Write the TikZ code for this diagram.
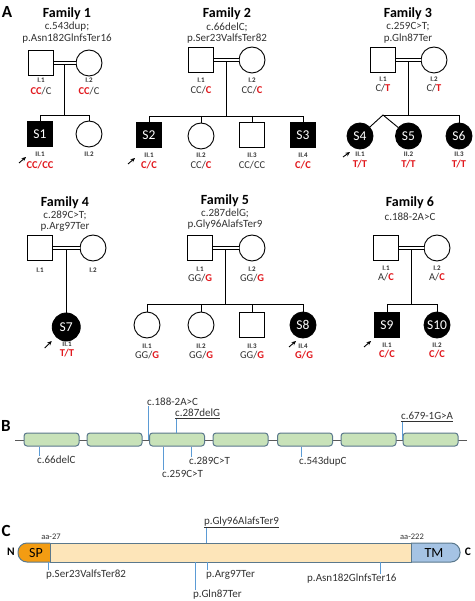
\documentclass[tikz,border=0pt]{standalone}
\usepackage{fontspec}
\setmainfont{Carlito}
\usetikzlibrary{calc,arrows.meta}
\definecolor{gred}{RGB}{225,25,30}
\definecolor{mblue}{RGB}{91,155,213}
\definecolor{exfill}{RGB}{200,226,185}
\definecolor{exline}{RGB}{90,120,140}
\definecolor{spfill}{RGB}{243,156,18}
\definecolor{bodyfill}{RGB}{253,229,185}
\definecolor{tmfill}{RGB}{165,195,228}
\definecolor{txt}{RGB}{50,50,50}
\newcommand\rg[1]{\textcolor{gred}{\textbf{#1}}}
\begin{document}
\begin{tikzpicture}[x=1pt,y=-1pt,
 male/.style={draw, line width=0.9pt, fill=white, minimum size=25pt, inner sep=0pt},
 female/.style={circle, draw, line width=0.9pt, fill=white, minimum size=26pt, inner sep=0pt},
 aff/.style={fill=black, text=white, font=\fontsize{13.5}{13.5}\selectfont},
 fam/.style={font=\fontsize{14}{14}\selectfont\bfseries, inner sep=0pt},
 mut/.style={font=\fontsize{11}{11}\selectfont, text=txt, inner sep=0pt},
 iid/.style={font=\fontsize{7}{7}\selectfont\bfseries, text=txt, inner sep=0pt},
 geno/.style={font=\fontsize{10.5}{11}\selectfont, text=txt, inner sep=0pt},
 plab/.style={font=\fontsize{17}{17}\selectfont\bfseries, inner sep=0pt},
 rel/.style={line width=0.9pt},
 cons/.style={double distance=2.2pt, line width=0.8pt},
 prob/.style={-{Stealth[length=4.5pt,width=4pt]}, line width=0.9pt},
 exon/.style={draw=exline, fill=exfill, line width=1pt, rounded corners=3pt, minimum width=55pt, minimum height=13pt, inner sep=0pt},
 mk/.style={draw=mblue, line width=1pt},
 small/.style={font=\fontsize{8.5}{8.5}\selectfont, text=txt, inner sep=0pt},
 dom/.style={font=\fontsize{14}{14}\selectfont, inner sep=0pt},
 term/.style={font=\fontsize{11.5}{11.5}\selectfont\bfseries, inner sep=0pt}
]
\useasboundingbox (0,0) rectangle (474,601);

% panel letters
\node[plab] (pA) at (7,12) {A};
\node[plab] (pB) at (6,426) {B};
\node[plab] (pC) at (6,531) {C};

% ---------------- Family 1
\node[fam] (t1) at (67,14) {Family 1};
\node[mut] (m1a) at (67,27) {c.543dup;};
\node[mut] (m1b) at (67,39) {p.Asn182GlnfsTer16};
\node[male] (f1a) at (41,63) {};
\node[female] (f1b) at (89,63) {};
\coordinate (f1m) at ($(f1a.east)!0.5!(f1b.west)$);
\coordinate (f1s) at (f1m |- 0,115);
\node[male,aff] (s1) at (40,134) {S1};
\node[female] (f1c) at (89,134) {};
\draw[rel] (f1m) -- (f1s);
\draw[cons] (f1a.east) -- (f1b.west);
\draw[rel] (s1.north) -- (s1.north |- f1s) -- (f1c.north |- f1s) -- (f1c.north);
\node[iid] (i1a) at (41,80) {I.1};
\node[geno] (g1a) at (41,91) {\rg{CC}/C};
\node[iid] (i1b) at (89,80) {I.2};
\node[geno] (g1b) at (89,91) {\rg{CC}/C};
\node[iid] (i1c) at (40,154) {II.1};
\node[geno] (g1c) at (40,165) {\rg{CC/CC}};
\node[iid] (i1d) at (89,154) {II.2};
\draw[prob] ($(s1)+(-21,29)$) -- ($(s1)+(-14,23)$);

% ---------------- Family 2
\node[fam] (t2) at (227,14) {Family 2};
\node[mut] (m2a) at (227,27) {c.66delC;};
\node[mut] (m2b) at (227,39) {p.Ser23ValfsTer82};
\node[male] (f2a) at (201,60) {};
\node[female] (f2b) at (252,60) {};
\coordinate (f2m) at ($(f2a.east)!0.5!(f2b.west)$);
\coordinate (f2s) at (f2m |- 0,116);
\node[male,aff] (s2) at (149,135) {S2};
\node[female] (f2c) at (201,136) {};
\node[male] (f2d) at (252,135) {};
\node[male,aff] (s3) at (303,135) {S3};
\draw[rel] (f2m) -- (f2s);
\draw[cons] (f2a.east) -- (f2b.west);
\draw[rel] (s2.north) -- (s2.north |- f2s) -- (s3.north |- f2s) -- (s3.north);
\draw[rel] (f2c.north |- f2s) -- (f2c.north);
\draw[rel] (f2d.north |- f2s) -- (f2d.north);
\node[iid] (i2a) at (201,80) {I.1};
\node[geno] (g2a) at (201,90) {CC/\rg{C}};
\node[iid] (i2b) at (252,80) {I.2};
\node[geno] (g2b) at (252,90) {CC/\rg{C}};
\node[iid] (i2c) at (149,155) {II.1};
\node[geno] (g2c) at (149,165) {\rg{C/C}};
\node[iid] (i2d) at (201,155) {II.2};
\node[geno] (g2d) at (201,165) {CC/\rg{C}};
\node[iid] (i2e) at (252,155) {II.3};
\node[geno] (g2e) at (252,165) {CC/CC};
\node[iid] (i2f) at (303,155) {II.4};
\node[geno] (g2f) at (303,165) {\rg{C/C}};
\draw[prob] ($(s2)+(-21,29)$) -- ($(s2)+(-14,23)$);

% ---------------- Family 3
\node[fam] (t3) at (408,14) {Family 3};
\node[mut] (m3a) at (408,27) {c.259C>T;};
\node[mut] (m3b) at (408,39) {p.Gln87Ter};
\node[male] (f3a) at (383,60) {};
\node[female] (f3b) at (434,60) {};
\coordinate (f3m) at ($(f3a.east)!0.5!(f3b.west)$);
\coordinate (f3s) at (f3m |- 0,115);
\coordinate (f3t) at (383,115);
\node[female,aff] (s4) at (360,136) {S4};
\node[female,aff] (s5) at (408.5,136) {S5};
\node[female,aff] (s6) at (459,136) {S6};
\draw[rel] (f3m) -- (f3s);
\draw[cons] (f3a.east) -- (f3b.west);
\draw[rel] (f3t) -- (s6.north |- f3s) -- (s6.north);
\draw[rel] (s4) -- (f3t) -- (s5);
\node[iid] (i3a) at (383,79) {I.1};
\node[geno] (g3a) at (383,88) {C/\rg{T}};
\node[iid] (i3b) at (434,79) {I.2};
\node[geno] (g3b) at (434,88) {C/\rg{T}};
\node[iid] (i3c) at (360,154) {II.1};
\node[geno] (g3c) at (360,164) {\rg{T/T}};
\node[iid] (i3d) at (408.5,154) {II.2};
\node[geno] (g3d) at (408.5,164) {\rg{T/T}};
\node[iid] (i3e) at (459,154) {II.3};
\node[geno] (g3e) at (459,164) {\rg{T/T}};
\draw[prob] ($(s4)+(-17,21)$) -- ($(s4)+(-10,16)$);

% ---------------- Family 4
\node[fam] (t4) at (65,203) {Family 4};
\node[mut] (m4a) at (65,215) {c.289C>T;};
\node[mut] (m4b) at (65,227) {p.Arg97Ter};
\node[male] (f4a) at (40,248) {};
\node[female] (f4b) at (93,248) {};
\coordinate (f4m) at ($(f4a.east)!0.5!(f4b.west)$);
\node[female,aff,minimum size=28pt] (s7) at (f4m |- 0,327) {S7};
\draw[rel] (f4m) -- (s7.north);
\draw[cons] (f4a.east) -- (f4b.west);
\node[iid] (i4a) at (40,270) {I.1};
\node[iid] (i4b) at (93,270) {I.2};
\node[iid] (i4c) at (67,344) {II.1};
\node[geno] (g4c) at (67,353) {\rg{T/T}};
\draw[prob] ($(s7)+(-21.5,21)$) -- ($(s7)+(-14.5,14)$);

% ---------------- Family 5
\node[fam] (t5) at (225,201) {Family 5};
\node[mut] (m5a) at (225,213) {c.287delG;};
\node[mut] (m5b) at (225,225) {p.Gly96AlafsTer9};
\node[male] (f5a) at (200,248) {};
\node[female] (f5b) at (252,248) {};
\coordinate (f5m) at ($(f5a.east)!0.5!(f5b.west)$);
\coordinate (f5s) at (f5m |- 0,304);
\node[female] (f5c) at (147,325) {};
\node[female] (f5d) at (201,325) {};
\node[male] (f5e) at (252,325) {};
\node[female,aff] (s8) at (303,325) {S8};
\draw[rel] (f5m) -- (f5s);
\draw[cons] (f5a.east) -- (f5b.west);
\draw[rel] (f5c.north) -- (f5c.north |- f5s) -- (s8.north |- f5s) -- (s8.north);
\draw[rel] (f5d.north |- f5s) -- (f5d.north);
\draw[rel] (f5e.north |- f5s) -- (f5e.north);
\node[iid] (i5a) at (200,269) {I.1};
\node[geno] (g5a) at (200,278) {GG/\rg{G}};
\node[iid] (i5b) at (252,269) {I.2};
\node[geno] (g5b) at (252,278) {GG/\rg{G}};
\node[iid] (i5c) at (147,346) {II.1};
\node[geno] (g5c) at (147,355) {GG/\rg{G}};
\node[iid] (i5d) at (201,346) {II.2};
\node[geno] (g5d) at (201,355) {GG/\rg{G}};
\node[iid] (i5e) at (252,346) {II.3};
\node[geno] (g5e) at (252,355) {GG/\rg{G}};
\node[iid] (i5f) at (303,346) {II.4};
\node[geno] (g5f) at (304,355) {\rg{G/G}};
\draw[prob] ($(s8)+(-14,22)$) -- ($(s8)+(-7,16)$);

% ---------------- Family 6
\node[fam] (t6) at (410,203) {Family 6};
\node[mut] (m6a) at (410,217) {c.188-2A>C};
\node[male] (f6a) at (386,248) {};
\node[female] (f6b) at (437,248) {};
\coordinate (f6m) at ($(f6a.east)!0.5!(f6b.west)$);
\coordinate (f6s) at (f6m |- 0,304);
\node[male,aff] (s9) at (387,325) {S9};
\node[female,aff] (s10) at (437,325) {S10};
\draw[rel] (f6m) -- (f6s);
\draw[cons] (f6a.east) -- (f6b.west);
\draw[rel] (s9.north) -- (s9.north |- f6s) -- (s10.north |- f6s) -- (s10.north);
\node[iid] (i6a) at (386,268) {I.1};
\node[geno] (g6a) at (386,277) {A/\rg{C}};
\node[iid] (i6b) at (437,268) {I.2};
\node[geno] (g6b) at (437,277) {A/\rg{C}};
\node[iid] (i6c) at (387,345) {II.1};
\node[geno] (g6c) at (387,354) {\rg{C/C}};
\node[iid] (i6d) at (437,345) {II.2};
\node[geno] (g6d) at (437,354) {\rg{C/C}};
\draw[prob] ($(s9)+(-23,22)$) -- ($(s9)+(-16,16)$);

% ---------------- Panel B
\coordinate (bl) at (15,440);
\coordinate (br) at (467,440);
\draw[line width=1pt, black!65] (bl) -- (br);
\node[exon] (e1) at (51.5,439.5) {};
\node[exon] (e2) at (114.5,439.5) {};
\node[exon] (e3) at (177,439.5) {};
\node[exon] (e4) at (240.5,439.5) {};
\node[exon] (e5) at (305,439.5) {};
\node[exon] (e6) at (368.5,439.5) {};
\node[exon] (e7) at (430.5,439.5) {};

\node[mut, anchor=north west] (b66) at (37,456) {c.66delC};
\draw[mk] ([xshift=2pt]b66.north west) -- ([xshift=2pt]b66.north west |- e1.south);
\node[mut, anchor=south west] (b188) at (147,406) {c.188-2A>C};
\draw[mk] ([xshift=1pt]b188.south west) -- ([xshift=1pt]b188.south west |- bl);
\node[mut, anchor=south west] (b287) at (175,419) {\underline{c.287delG}};
\draw[mk] ([xshift=1pt]b287.south west) -- ([xshift=1pt]b287.south west |- e3.north);
\node[mut, anchor=north west] (b259) at (162,470) {c.259C>T};
\draw[mk] ([xshift=1pt]b259.north west) -- ([xshift=1pt]b259.north west |- e3.south);
\node[mut, anchor=north west] (b289) at (189,457) {c.289C>T};
\draw[mk] ([xshift=2pt]b289.north west) -- ([xshift=2pt]b289.north west |- e3.south);
\node[mut, anchor=north west] (b543) at (299,457) {c.543dupC};
\draw[mk] ([xshift=2pt]b543.north west) -- ([xshift=2pt]b543.north west |- e5.south);
\node[mut, anchor=south west] (b679) at (401,422) {\underline{c.679-1G>A}};
\draw[mk] ([xshift=1pt]b679.south west) -- ([xshift=1pt]b679.south west |- bl);

% ---------------- Panel C
\coordinate (cb1) at (50,543);
\coordinate (cb2) at (411,562);
\fill[bodyfill] (cb1) rectangle (cb2);
\draw[exline, line width=1pt] (cb1) rectangle (cb2);
\filldraw[fill=spfill, draw=exline, line width=1pt, rounded corners=9pt] (50,543) -- (18,543) -- (18,562) -- (50,562);
\draw[exline, line width=1pt] (50,543) -- (50,562);
\filldraw[fill=tmfill, draw=exline, line width=1pt, rounded corners=9pt] (411,543) -- (460,543) -- (460,562) -- (411,562);
\draw[exline, line width=1pt] (411,543) -- (411,562);
\node[dom] (sp) at (36,553) {SP};
\node[dom] (tm) at (434,553) {TM};
\node[term] (nt) at (11,552) {N};
\node[term] (ct) at (468,552) {C};
\node[small] (aa27) at (51,537) {aa-27};
\node[small] (aa222) at (412,537) {aa-222};

\node[mut, anchor=north west] (pser) at (46,570) {p.Ser23ValfsTer82};
\draw[mk] ([xshift=2pt]pser.north west) -- ([xshift=2pt]pser.north west |- cb2);
\node[mut, anchor=south west] (pgly) at (204,528) {\underline{p.Gly96AlafsTer9}};
\draw[mk] ([xshift=2pt]pgly.south west) -- ([xshift=2pt]pgly.south west |- cb1);
\node[mut, anchor=north west] (parg) at (206,570) {p.Arg97Ter};
\draw[mk] ([xshift=1pt]parg.north west) -- ([xshift=1pt]parg.north west |- cb2);
\node[mut, anchor=north west] (pgln) at (193,590) {p.Gln87Ter};
\draw[mk] ([xshift=2pt]pgln.north west) -- ([xshift=2pt]pgln.north west |- cb2);
\node[mut, anchor=north west] (pasn) at (307,574) {p.Asn182GlnfsTer16};
\coordinate (pasnl) at (380,574);
\draw[mk] (pasnl) -- (pasnl |- cb2);
\end{tikzpicture}
\end{document}
